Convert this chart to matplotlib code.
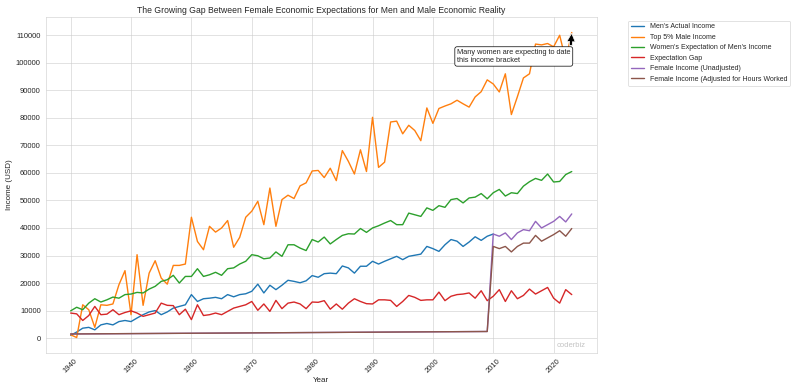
import matplotlib.pyplot as plt
import seaborn as sns

years = list(range(1940, 2024))

mens_actual = [1000, 2200, 3600, 3900, 3000, 4800, 5300, 4800, 6000, 6400,
               6000, 7300, 8500, 9500, 10000, 8500, 9500, 10900, 11500, 12100,
               15800, 13300, 14300, 14500, 14800, 14300, 15800, 15000, 15800, 16100,
               17000, 19600, 16400, 19200, 17600, 19200, 21000, 20600, 20100, 20800,
               22700, 22100, 23400, 23600, 23400, 26200, 25500, 23600, 26100, 26100,
               27900, 26900, 27900, 28800, 29700, 28500, 29700, 30100, 30500, 33300,
               32500, 31500, 33900, 35800, 35200, 33300, 34900, 36800, 35500, 37000,
               37800]

top5_male = [1200, 200, 12100, 10300, 3900, 12100, 11900, 12400, 19400, 24500,
             8500, 30300, 11900, 23600, 28100, 21800, 19600, 26400, 26400, 26900,
             43900, 35100, 32100, 40600, 38500, 40000, 42700, 33000, 36600, 43900,
             46100, 49700, 41200, 54500, 40600, 50300, 51900, 50700, 55300, 56400,
             60700, 60900, 58300, 61700, 57200, 68100, 64200, 59600, 68400, 60500,
             80200, 62000, 63900, 78500, 78800, 74200, 77300, 75400, 71700, 83600,
             78000, 83400, 84300, 85100, 86400, 85100, 83900, 87600, 89500, 93800,
             92300, 89400, 96000, 81200, 87700, 94500, 96000, 106800, 106500, 107000,
             105800, 110000, 101000, 111000]

women_expectation = [9900, 11200, 10300, 12700, 14300, 13100, 13900, 14900, 14500, 15800,
                     16000, 16600, 16400, 17800, 18800, 20600, 21200, 22800, 20000, 22400,
                     22400, 25200, 22400, 23000, 23900, 22800, 25200, 25500, 26900, 27900,
                     30300, 29900, 28800, 29100, 31300, 29700, 33900, 33900, 32700, 31800,
                     35800, 34900, 36700, 34200, 35800, 37300, 37900, 37800, 39800, 38400,
                     40000, 40800, 41800, 42700, 41200, 41200, 45400, 44800, 44200, 47300,
                     46400, 48100, 47500, 50300, 50700, 49100, 50900, 51200, 52500, 50600,
                     52800, 54000, 51600, 52800, 52500, 55200, 56800, 58000, 57300, 59600,
                     56700, 56900, 59400, 60500]

expectation_gap = [9100, 8800, 6400, 8200, 11500, 8500, 8700, 10300, 8500, 9300,
                   9900, 9100, 7900, 8500, 9100, 12700, 11900, 11800, 8500, 10500,
                   6700, 12100, 8200, 8500, 9100, 8500, 9700, 10900, 11500, 12100,
                   13300, 10100, 12400, 9700, 13700, 10700, 12700, 13100, 12400, 10700,
                   13100, 13000, 13600, 10500, 12400, 10500, 12700, 14300, 13300, 12500,
                   12400, 13900, 13900, 13700, 11500, 13300, 15500, 14800, 13700, 13900,
                   13900, 16700, 13600, 15200, 15800, 16000, 16400, 14500, 17200, 13600,
                   15200, 17600, 13300, 17200, 14300, 15500, 17800, 16000, 17200, 18400,
                   14500, 12700, 17600, 15800]

female_years = [1940, 2009] + list(range(2010, 2024))
female_unadjusted = [1500, 2400, 37800, 37000, 38200, 35800, 38200, 39400, 39000, 42400,
                     40000, 41200, 42400, 44200, 42200, 45100]
female_adjusted = [1500, 2400, 33300, 32500, 33300, 31300, 33300, 34500, 34500, 37300,
                   35200, 36400, 37600, 39000, 37000, 39800]

sns.set_style('whitegrid')
plt.rcParams['font.family'] = ['Liberation Sans', 'DejaVu Sans']

fig, ax = plt.subplots(figsize=(16, 7.84), dpi=50)
lw = 2
ax.plot(years[:len(mens_actual)], mens_actual, label="Men's Actual Income", color='#1f77b4', lw=lw)
ax.plot(years, top5_male, label='Top 5% Male Income', color='#ff7f0e', lw=lw)
ax.plot(years, women_expectation, label="Women's Expectation of Men's Income", color='#2ca02c', lw=lw)
ax.plot(years, expectation_gap, label='Expectation Gap', color='#d62728', lw=lw)
ax.plot(female_years, female_unadjusted, label='Female Income (Unadjusted)', color='#9467bd', lw=lw)
ax.plot(female_years, female_adjusted, label='Female Income (Adjusted for Hours Worked', color='#8c564b', lw=lw)

ax.annotate('Many women are expecting to date\nthis income bracket',
            xy=(2023, top5_male[-1]), xytext=(2004, 100300),
            arrowprops=dict(facecolor='black', shrink=0.05),
            bbox=dict(boxstyle='round', fc='white', ec='black'),
            fontsize=10.6)

ax.set_title('The Growing Gap Between Female Economic Expectations for Men and Male Economic Reality',
             fontsize=12.5)
ax.set_xlabel('Year', fontsize=11.5)
ax.set_ylabel('Income (USD)', fontsize=11.5)
ax.set_xticks(range(1940, 2021, 10))
ax.set_yticks(range(0, 110001, 10000))
ax.tick_params(axis='both', labelsize=11)
plt.setp(ax.get_xticklabels(), rotation=45)
ax.legend(bbox_to_anchor=(1.05, 1), loc='upper left', fontsize=10)
ax.text(0.98, 0.012, 'coderbiz', transform=ax.transAxes, ha='right', va='bottom',
        fontsize=11, color='#c4c4c4')

plt.subplots_adjust(left=0.057, right=0.746, top=0.956, bottom=0.1)
plt.savefig('out.png', dpi=50)
